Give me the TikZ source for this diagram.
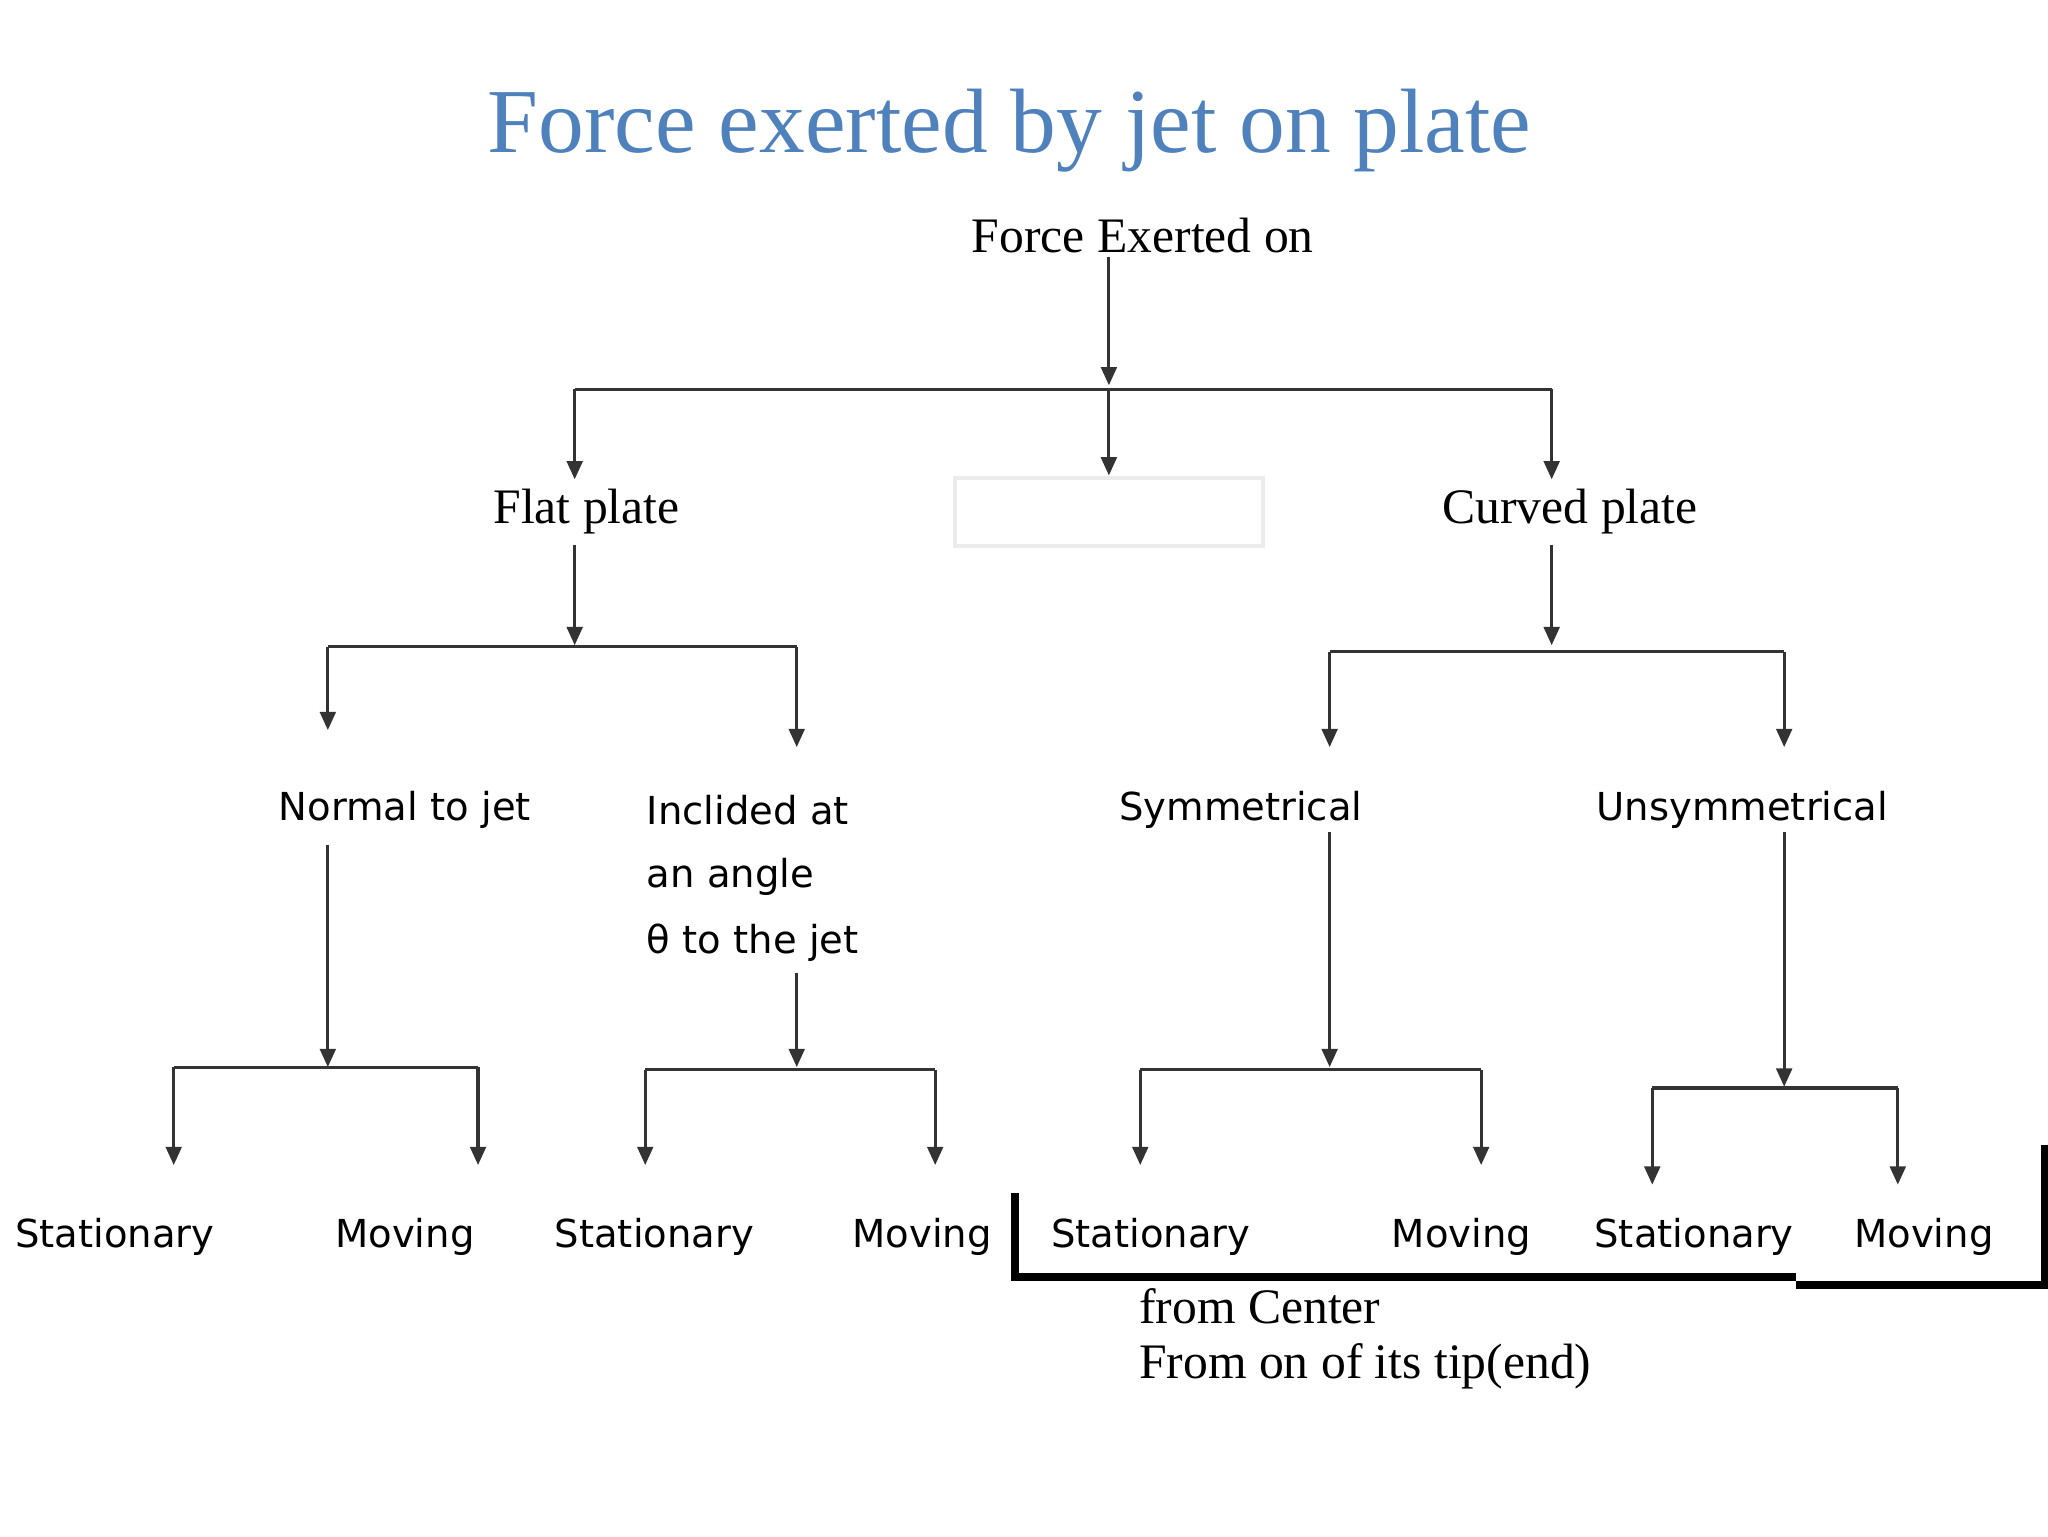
\documentclass[tikz,border=0pt]{standalone}
\usepackage{fontspec}
\setmainfont{Liberation Serif}
\newfontfamily\vsans{DejaVu Sans}
\usetikzlibrary{arrows.meta}
\definecolor{titleblue}{RGB}{79,129,189}
\begin{document}
\begin{tikzpicture}[x=1pt,y=-1pt,
  ln/.style={line width=2.4pt,draw=black!80},
  ar/.style={ln,-{Triangle[length=14pt,width=12pt]}},
  sr/.style={font=\fontsize{38}{42}\selectfont,inner sep=0pt},
  sn/.style={font=\vsans\fontsize{29.5}{34}\selectfont,inner sep=0pt}]
\useasboundingbox (0,0) rectangle (1568,1176);
\node[font=\fontsize{70}{76}\selectfont,text=titleblue,inner sep=0pt] (title) at (773,100) {Force exerted by jet on plate};
\node[sr] (root) at (875,180) {Force Exerted on};
\node[sr] (flat) at (449,392) {Flat plate};
\node[sr] (curv) at (1202,392) {Curved plate};
\node[draw=black!8,line width=3pt,minimum width=236pt,minimum height=52pt] (mid) at (849,392) {};
\node[sn] (norm) at (310,620) {Normal to jet};
\node[sn,anchor=west] (inc1) at (495,620) {Inclided at};
\node[sn,anchor=west] (inc2) at (495,671) {an angle};
\node[sn,anchor=west] (inc3) at (495,722) {θ to the jet};
\node[sn] (sym) at (950,620) {Symmetrical};
\node[sn] (uns) at (1334,620) {Unsymmetrical};
\foreach \n/\x/\t in {l1/88/Stationary,l2/310/Moving,l3/501/Stationary,l4/706/Moving,l5/881/Stationary,l6/1119/Moving,l7/1297/Stationary,l8/1473/Moving}
  \node[sn] (\n) at (\x,947) {\t};
\node[sr,anchor=west] (fc) at (872,1000) {from Center};
\node[sr,anchor=west] (ft) at (872,1046) {From on of its tip(end)};
% level 1
\coordinate (a0) at (849,197);
\draw[ar] (a0) -- (849,295);
\draw[ln] (440,298) -- (1188,298);
\draw[ar] (440,298) -- (440,367);
\draw[ar] (849,298) -- (849,364);
\draw[ar] (1188,298) -- (1188,367);
% flat
\draw[ar] (440,417) -- (440,494);
\draw[ln] (251,495) -- (610,495);
\draw[ar] (251,495) -- (251,559);
\draw[ar] (610,495) -- (610,572);
% curved
\draw[ar] (1188,417) -- (1188,494);
\draw[ln] (1018,499) -- (1366,499);
\draw[ar] (1018,499) -- (1018,572);
\draw[ar] (1366,499) -- (1366,572);
% leaves
\draw[ar] (251,647) -- (251,817);
\draw[ln] (133,817) -- (366,817);
\draw[ar] (133,817) -- (133,892);
\draw[ar] (366,817) -- (366,892);
\draw[ar] (610,745) -- (610,817);
\draw[ln] (494,819) -- (716,819);
\draw[ar] (494,819) -- (494,892);
\draw[ar] (716,819) -- (716,892);
\draw[ar] (1018,637) -- (1018,817);
\draw[ln] (873,819) -- (1134,819);
\draw[ar] (873,819) -- (873,892);
\draw[ar] (1134,819) -- (1134,892);
\draw[ar] (1366,637) -- (1366,832);
\draw[ln] (1265,833) -- (1453,833);
\draw[ar] (1265,833) -- (1265,907);
\draw[ar] (1453,833) -- (1453,907);
% bracket
\draw[line width=6pt,black] (777,913) -- (777,978) -- (1375,978);
\draw[line width=6pt,black] (1375,984) -- (1566,984) -- (1566,877);
\end{tikzpicture}
\end{document}
